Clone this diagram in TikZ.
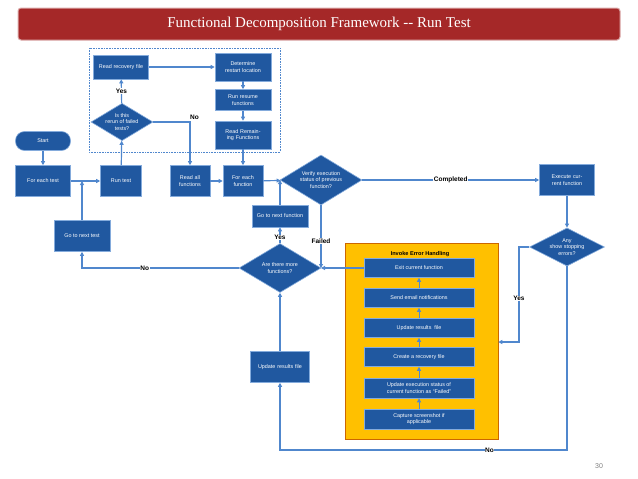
\documentclass[tikz,border=0pt]{standalone}
\usepackage{fontspec}
\setmainfont{Liberation Sans}
\newfontfamily\titlefont{Liberation Serif}
\usetikzlibrary{shapes.geometric,arrows.meta}
\definecolor{boxblue}{RGB}{32,88,160}
\definecolor{lineblue}{RGB}{80,135,205}
\definecolor{errgold}{RGB}{255,192,0}
\definecolor{titlered}{RGB}{165,40,40}
\tikzset{
  blk/.style={draw=lineblue!70!white, fill=boxblue, text=white, font=\fontsize{5.4}{6.4}\selectfont, align=center, inner sep=1pt, line width=0.6pt},
  dec/.style={blk, diamond, aspect=1.6, inner sep=0pt},
  lbl/.style={font=\fontsize{6.5}{7}\selectfont\bfseries, fill=white, inner sep=0.5pt},
  flow/.style={draw=lineblue, line width=1.2pt, -{Triangle[length=4pt,width=4pt]}},
  seg/.style={draw=lineblue, line width=1.2pt}
}
\begin{document}
\begin{tikzpicture}[x=1pt,y=-1pt]
\useasboundingbox (0,0) rectangle (638,479);
% title bar
\node[draw=titlered!40!white, line width=1pt, fill=titlered, rounded corners=3pt, minimum width=602pt, minimum height=32pt, text=white, font=\titlefont\fontsize{15}{16}\selectfont] (title) at (319,24) {Functional Decomposition Framework -- Run Test};

% restart region
\draw[lineblue, densely dotted, line width=0.6pt] (89,48) rectangle (280,152);
\node[blk, minimum width=55pt, minimum height=24pt, text width=52pt] (readrec) at (121,67) {Read recovery file};
\node[blk, minimum width=56pt, minimum height=28pt, text width=53pt] (restart) at (243,67) {Determine restart location};
\node[blk, minimum width=56pt, minimum height=21pt, text width=53pt] (resume) at (243,100) {Run resume functions};
\node[blk, minimum width=56pt, minimum height=28pt, text width=53pt] (remain) at (243,135) {Read Remaining Functions};
\node[dec, minimum width=62pt, minimum height=36pt] (rerun) at (122,122) {Is this\\rerun of failed\\tests?};

% main row
\node[blk, rounded corners=9pt, minimum width=55pt, minimum height=19pt] (start) at (43,141) {Start};
\node[blk, minimum width=55pt, minimum height=31pt] (eachtest) at (43,181) {For each test};
\node[blk, minimum width=41pt, minimum height=31pt] (runtest) at (121,181) {Run test};
\node[blk, minimum width=40pt, minimum height=31pt, text width=38pt] (readall) at (190,181) {Read all functions};
\node[blk, minimum width=40pt, minimum height=31pt, text width=38pt] (eachfn) at (243,181) {For each function};
\node[dec, minimum width=82pt, minimum height=50pt] (verify) at (321,180) {Verify execution\\status of previous\\function?};
\node[blk, minimum width=55pt, minimum height=31pt, text width=44pt] (exec) at (567,180) {Execute current function};
\node[dec, minimum width=75pt, minimum height=37pt] (stop) at (567,247) {Any\\show stopping\\errors?};

% loop back
\node[blk, minimum width=56pt, minimum height=22pt, text width=50pt] (nextfn) at (280,216) {Go to next function};
\node[blk, minimum width=56pt, minimum height=31pt] (nexttest) at (82,236) {Go to next test};
\node[dec, minimum width=82pt, minimum height=49pt] (more) at (280,268) {Are there more\\functions?};
\node[blk, minimum width=59pt, minimum height=31pt, text width=52pt] (updleft) at (280,367) {Update results file};

% error handling
\node[draw=orange!80!black, fill=errgold, line width=0.6pt, minimum width=153pt, minimum height=196pt] (errbox) at (421.5,341) {};
\node[font=\fontsize{5.6}{6}\selectfont\bfseries] (errtitle) at (420,254) {Invoke Error Handling};
\node[blk, minimum width=110pt, minimum height=19pt] (exit) at (419,268) {Exit current function};
\node[blk, minimum width=110pt, minimum height=19pt] (email) at (419,298) {Send email notifications};
\node[blk, minimum width=110pt, minimum height=19pt] (updres) at (419,328) {Update results\ \ file};
\node[blk, minimum width=110pt, minimum height=19pt] (recfile) at (419,357) {Create a recovery file};
\node[blk, minimum width=110pt, minimum height=20pt] (updstat) at (419,388) {Update execution status of\\current function as ``Failed''};
\node[blk, minimum width=110pt, minimum height=20pt] (shot) at (419,419) {Capture screenshot if\\applicable};

\coordinate (j1) at (82,181);
\coordinate (j2) at (280,180);
\coordinate (c1) at (190,122);
\coordinate (c2) at (321,268);
\coordinate (c3) at (82,268);
\coordinate (c4) at (519,247);
\coordinate (c5) at (519,342);
\coordinate (c6) at (567,450);
\coordinate (c7) at (280,450);

\draw[flow] (start) -- (eachtest);
\draw[flow] (eachtest) -- (runtest);
\draw[flow] (nexttest) -- (j1);
\draw[flow] (runtest) -- (rerun);
\draw[flow] (rerun) -- node[lbl] {Yes} (readrec);
\draw[flow] (rerun.east) -- (c1) node[lbl, pos=1, right=-1pt, yshift=5pt] {No} -- (readall);
\draw[flow] (readrec) -- (restart);
\draw[flow] (restart) -- (resume);
\draw[flow] (resume) -- (remain);
\draw[flow] (remain) -- (eachfn);
\draw[flow] (readall) -- (eachfn);
\draw[flow] (eachfn) -- (verify);
\draw[flow] (nextfn) -- (j2);
\draw[flow] (verify) -- node[lbl] {Completed} (exec);
\draw[flow] (exec) -- (stop);
\draw[flow] (verify.south) -- node[lbl, pos=0.57] {Failed} (c2);
\draw[flow] (exit) -- (c2);
\draw[flow] (more) -- node[lbl, pos=0.35] {Yes} (nextfn);
\draw[flow] (more.west) -- node[lbl, pos=0.6] {No} (c3) -- (nexttest);
\draw[flow] (updleft) -- (more);
\draw[flow] (stop.west) -- (c4) -- node[lbl, pos=0.54] {Yes} (c5) -- (c5 -| errbox.east);
\draw[flow] (stop.south) -- (c6) -- node[lbl, pos=0.27] {No} (c7) -- (updleft);
\foreach \a/\b in {shot/updstat, updstat/recfile, recfile/updres, updres/email, email/exit}
  \draw[flow, line width=0.9pt] (\a) -- (\b);

\node[text=gray, font=\fontsize{7}{8}\selectfont] (pageno) at (599,466) {30};
\end{tikzpicture}
\end{document}
